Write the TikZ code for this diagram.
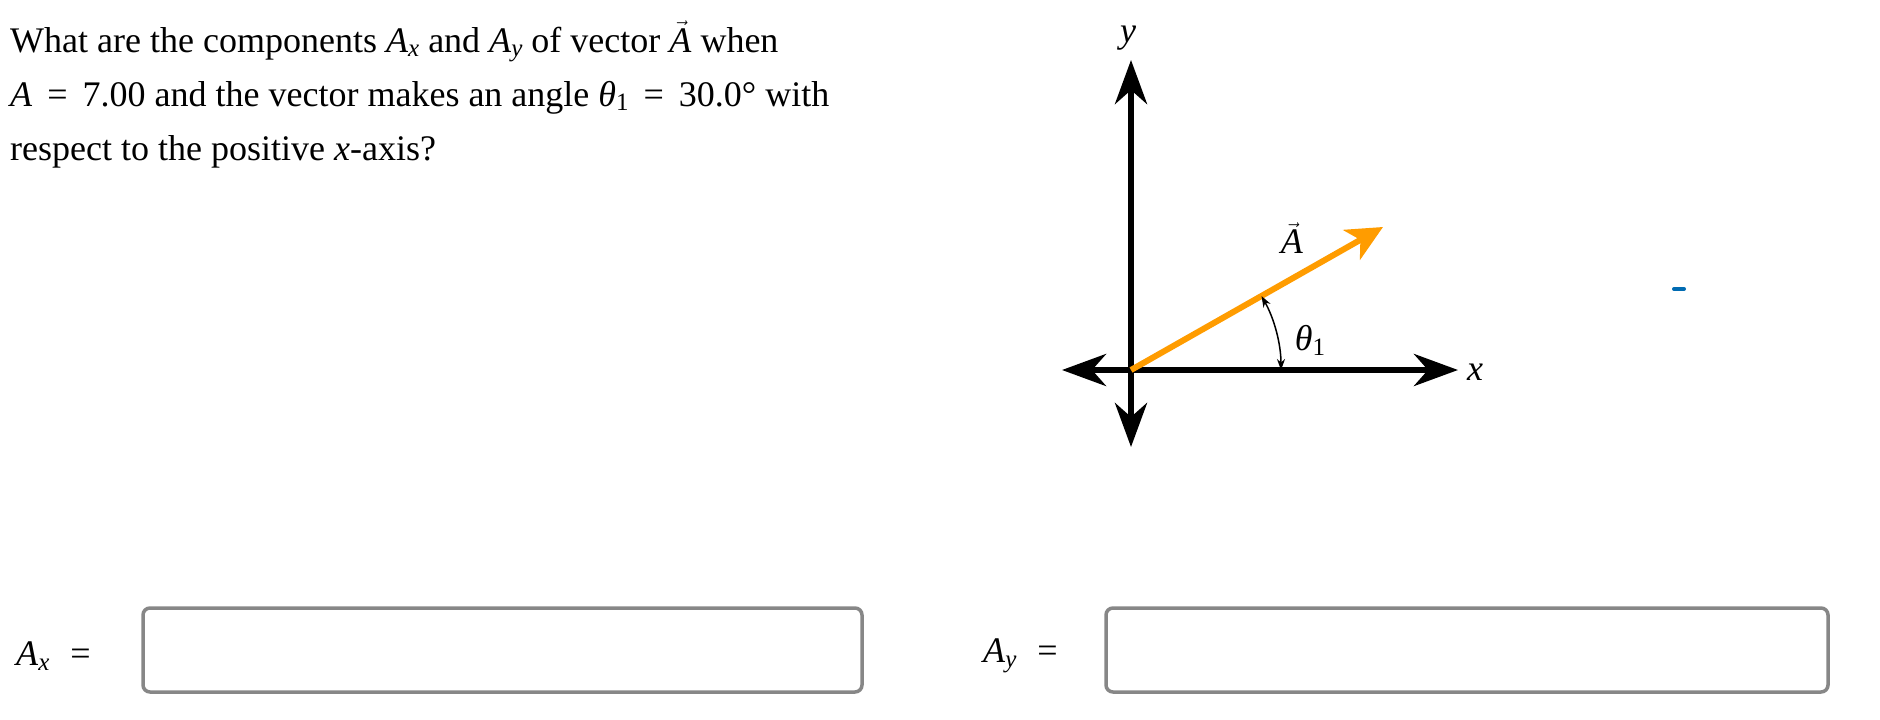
\documentclass[tikz,border=0pt]{standalone}
\usepackage{fontspec}
\setmainfont{Liberation Serif}
\usetikzlibrary{arrows.meta}
\definecolor{vecor}{HTML}{FF9C00}
\newcommand{\vA}{\ensuremath{\vec{\mbox{\textit{A}}}}}
\newcommand{\sub}[1]{\raisebox{-0.3ex}{\fontsize{25}{28}\selectfont #1}}
\begin{document}
\begin{tikzpicture}[x=1pt,y=-1pt,
  txt/.style={inner sep=0pt,anchor=base west,font=\fontsize{36}{42}\selectfont},
  lab/.style={inner sep=0pt,font=\fontsize{36}{42}\selectfont},
  axis/.style={line width=6pt,-{Stealth[length=44pt,width=32pt,inset=14pt]}},
  ansbox/.style={draw=black!47,line width=3.5pt,rounded corners=7pt}]
\useasboundingbox (0,0) rectangle (1880,720);
% question text
\node[txt] (l1) at (10,52) {What are the components \textit{A}\sub{\textit{x}} and \textit{A}\sub{\textit{y}} of vector \vA\ when};
\node[txt] (l2) at (10,106) {\textit{A}\, =\, 7.00 and the vector makes an angle \textit{θ}\sub{1}\, =\, 30.0° with};
\node[txt] (l3) at (10,160) {respect to the positive \textit{x}-axis?};
% axes
\coordinate (O) at (1131,370);
\coordinate (xe) at (1458,370);
\coordinate (xw) at (1062,370);
\coordinate (yn) at (1131,60);
\coordinate (ys) at (1131,447);
\draw[axis] (O) -- (xe);
\draw[axis] (O) -- (xw);
\draw[axis] (O) -- (yn);
\draw[axis] (O) -- (ys);
\coordinate (tip) at (1383,227);
\draw[line width=6pt,color=vecor,-{Stealth[length=36pt,width=34pt,inset=10pt]}] (O) -- (tip);
\draw[line width=1.5pt,{Stealth[length=11pt,width=8pt]}-{Stealth[length=11pt,width=8pt]}] ([shift={(0:150)}]O) arc[start angle=0,end angle=-29.5,radius=150];
\node[lab] (xl) at (1475,372) {\textit{x}};
\node[lab] (yl) at (1128,38) {\textit{y}};
\node[lab] (al) at (1292,238) {\vA};
\node[lab] (th) at (1310,340) {\textit{θ}\sub{1}};
\draw[line width=4pt,line cap=round,color=blue!40!cyan!70!black] (1674,289) -- (1684,289);
% answer boxes
\node[lab,anchor=west] (ax) at (16,656) {\textit{A}\sub{\textit{x}}\,\, =};
\draw[ansbox] (143,608) rectangle (862,692);
\node[lab,anchor=west] (ay) at (983,656) {\textit{A}\sub{\textit{y}}\,\, =};
\draw[ansbox] (1106,608) rectangle (1828,692);
\end{tikzpicture}
\end{document}
